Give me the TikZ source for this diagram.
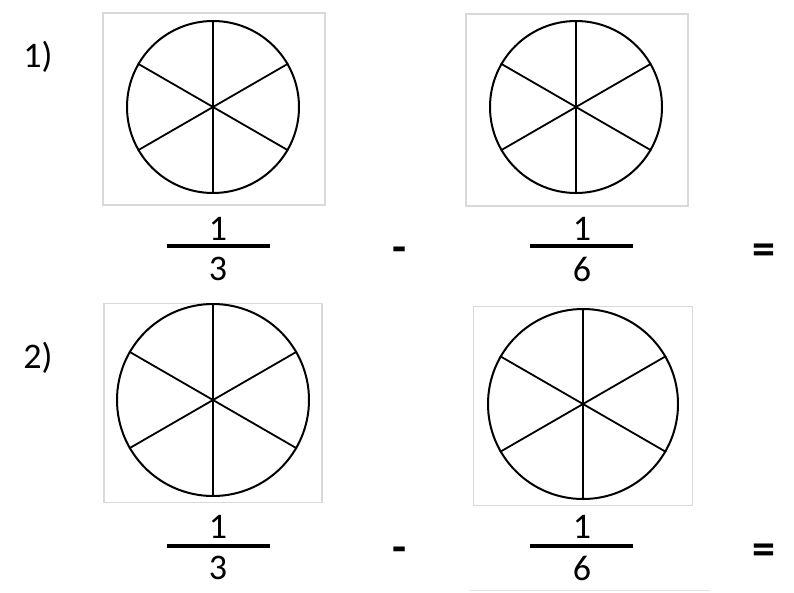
\documentclass[tikz,border=0pt]{standalone}
\usepackage{fontspec}
\setmainfont{Carlito}
\begin{document}
\begin{tikzpicture}[x=1pt,y=-1pt,
  frame/.style={draw=black!15,line width=1.2pt},
  wheel/.style={draw=black,line width=2pt},
  spoke/.style={line width=1.8pt},
  lbl/.style={inner sep=0pt,font=\fontsize{36}{40}\selectfont},
  op/.style={inner sep=0pt,anchor=base,font=\fontsize{46}{50}\selectfont\bfseries},
  bar/.style={line width=3.2pt}]
\useasboundingbox (0,0) rectangle (794,592);
% row 1
\node[frame,minimum width=222pt,minimum height=192pt,inner sep=0pt] (b1) at (214,109) {};
\node[frame,minimum width=222pt,minimum height=192pt,inner sep=0pt] (b2) at (577,110) {};
\node[wheel,circle,minimum size=172pt,inner sep=0pt] (c1) at (213,107) {};
\node[wheel,circle,minimum size=172pt,inner sep=0pt] (c2) at (576,107) {};
% row 2
\node[frame,minimum width=218pt,minimum height=199pt,inner sep=0pt] (b3) at (213,403) {};
\node[frame,minimum width=219pt,minimum height=199pt,inner sep=0pt] (b4) at (583,406) {};
\node[wheel,circle,minimum size=192pt,inner sep=0pt] (c3) at (213,400) {};
\node[wheel,circle,minimum size=190pt,inner sep=0pt] (c4) at (583,404) {};
\foreach \c in {c1,c2,c3,c4}{
  \draw[spoke] (\c.90) -- (\c.270);
  \draw[spoke] (\c.30) -- (\c.210);
  \draw[spoke] (\c.150) -- (\c.330);
}
\draw[line width=2.8pt] (c4.center) -- (c4.90);
\draw[line width=2.4pt] (c2.center) -- (c2.90);
% labels
\node[lbl] (n1) at (38,57) {1)};
\node[lbl] (n2) at (38,358) {2)};
% fractions row 1
\node[lbl] (f1n) at (218,229) {1};
\node[lbl] (f1d) at (218,269) {3};
\draw[bar] (167,246) -- (270,246);
\node[lbl] (f2n) at (582,229) {1};
\node[lbl] (f2d) at (582,269) {6};
\draw[bar] (530,246) -- (633,246);
\node[op] (m1) at (400,262) {-};
\node[op] (e1) at (764,264) {=};
% fractions row 2
\node[lbl] (f3n) at (218,527) {1};
\node[lbl] (f3d) at (218,568) {3};
\draw[bar] (167,546) -- (270,546);
\node[lbl] (f4n) at (582,527) {1};
\node[lbl] (f4d) at (582,568) {6};
\draw[bar] (530,546) -- (633,546);
\node[op] (m2) at (400,562) {-};
\node[op] (e2) at (764,564) {=};
\draw[black!10,line width=1pt] (470,590) -- (710,590);
\end{tikzpicture}
\end{document}
